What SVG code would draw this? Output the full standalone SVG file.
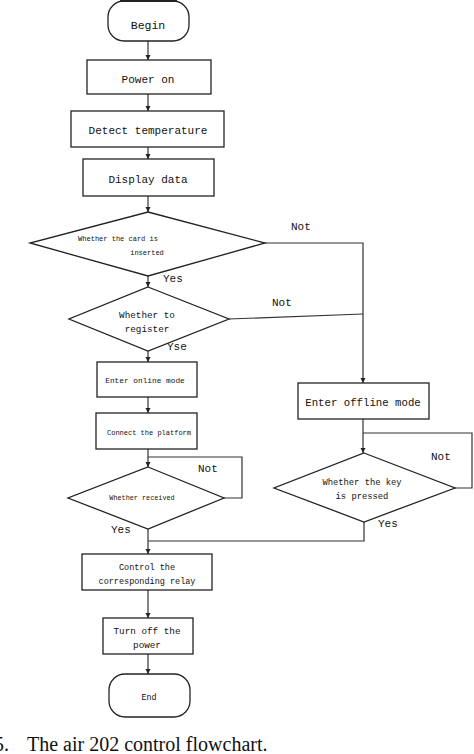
<svg xmlns="http://www.w3.org/2000/svg" width="474" height="754" viewBox="0 0 474 754">
<style>
.box{fill:#fff;stroke:#222;stroke-width:1.3}
.ln{fill:none;stroke:#333;stroke-width:1.2}
.t{font-family:"Liberation Mono","DejaVu Sans Mono",monospace;fill:#111;text-anchor:middle}
.lb{font-family:"Liberation Mono","DejaVu Sans Mono",monospace;fill:#111;font-size:11px}
.cap{font-family:"Liberation Serif","Times New Roman",serif;fill:#111;font-size:20px}
</style>
<defs>
<marker id="ar" markerWidth="6" markerHeight="6" refX="5" refY="3" orient="auto" markerUnits="userSpaceOnUse">
<path d="M0,0.5 L5,3 L0,5.5 Z" fill="#222"/>
</marker>
</defs>
<rect width="474" height="754" fill="#fff"/>
<g id="connectors">
<line class="ln" x1="148" y1="41" x2="148" y2="60" marker-end="url(#ar)"/>
<line class="ln" x1="148" y1="94" x2="148" y2="111" marker-end="url(#ar)"/>
<line class="ln" x1="148" y1="147" x2="148" y2="159" marker-end="url(#ar)"/>
<line class="ln" x1="148" y1="196" x2="148" y2="212" marker-end="url(#ar)"/>
<line class="ln" x1="148" y1="276" x2="148" y2="287" marker-end="url(#ar)"/>
<polyline class="ln" points="265,243 363,243 363,383" marker-end="url(#ar)"/>
<line class="ln" x1="229" y1="319" x2="363" y2="314"/>
<line class="ln" x1="148" y1="351" x2="148" y2="362" marker-end="url(#ar)"/>
<line class="ln" x1="148" y1="397" x2="148" y2="413" marker-end="url(#ar)"/>
<line class="ln" x1="148" y1="449" x2="148" y2="467" marker-end="url(#ar)"/>
<polyline class="ln" points="224,498 242,498 242,457 148,457"/>
<line class="ln" x1="148" y1="529" x2="148" y2="554" marker-end="url(#ar)"/>
<line class="ln" x1="363" y1="419" x2="363" y2="453" marker-end="url(#ar)"/>
<polyline class="ln" points="455,488 472,488 472,433 363,433"/>
<polyline class="ln" points="364,522 364,541 148,541"/>
<line class="ln" x1="148" y1="590" x2="148" y2="618" marker-end="url(#ar)"/>
<line class="ln" x1="148" y1="654" x2="148" y2="674" marker-end="url(#ar)"/>
</g>
<g id="labels">
<text class="lb" x="291" y="230">Not</text>
<text class="lb" x="163" y="282">Yes</text>
<text class="lb" x="272" y="306">Not</text>
<text class="lb" x="167" y="350">Yse</text>
<text class="lb" x="198" y="472">Not</text>
<text class="lb" x="111" y="533">Yes</text>
<text class="lb" x="431" y="460">Not</text>
<text class="lb" x="378" y="527">Yes</text>
</g>
<g id="begin">
<rect class="box" x="108" y="1" width="81" height="40" rx="16"/>
<line x1="120" y1="1" x2="177" y2="1" stroke="#222" stroke-width="2"/>
<text class="t" x="148" y="29" font-size="11.5">Begin</text>
</g>
<g id="power-on">
<rect class="box" x="87" y="60" width="124" height="34"/>
<text class="t" x="148" y="83" font-size="11">Power on</text>
</g>
<g id="detect">
<rect class="box" x="71" y="111" width="153" height="36"/>
<text class="t" x="148" y="134" font-size="11">Detect temperature</text>
</g>
<g id="display">
<rect class="box" x="83" y="159" width="131" height="37"/>
<text class="t" x="148" y="183" font-size="11">Display data</text>
</g>
<g id="card">
<polygon class="box" points="148,212 265,243 148,276 30,243"/>
<text class="t" x="118" y="241" font-size="7">Whether the card is</text>
<text class="t" x="147" y="255" font-size="7">inserted</text>
</g>
<g id="register">
<polygon class="box" points="148,287 229,319 148,351 69,319"/>
<text class="t" x="147" y="318" font-size="9.3">Whether to</text>
<text class="t" x="147" y="332" font-size="9.3">register</text>
</g>
<g id="online">
<rect class="box" x="97" y="362" width="100" height="35"/>
<text class="t" x="145" y="383" font-size="7.8">Enter online mode</text>
</g>
<g id="platform">
<rect class="box" x="96" y="413" width="101" height="36"/>
<text class="t" x="149" y="435" font-size="7">Connect the platform</text>
</g>
<g id="received">
<polygon class="box" points="148,467 224,498 148,529 68,498"/>
<text class="t" x="142" y="500" font-size="6.8">Whether received</text>
</g>
<g id="offline">
<rect class="box" x="298" y="383" width="131" height="36"/>
<text class="t" x="363" y="406" font-size="10.7">Enter offline mode</text>
</g>
<g id="key">
<polygon class="box" points="364,453 455,488 364,522 274,488"/>
<text class="t" x="362" y="485" font-size="8.8">Whether the key</text>
<text class="t" x="362" y="499" font-size="8.8">is pressed</text>
</g>
<g id="relay">
<rect class="box" x="82" y="554" width="130" height="36"/>
<text class="t" x="147" y="570" font-size="8.5">Control the</text>
<text class="t" x="147" y="584" font-size="8.5">corresponding relay</text>
</g>
<g id="turnoff">
<rect class="box" x="103" y="618" width="90" height="36"/>
<text class="t" x="147" y="634" font-size="9.3">Turn off the</text>
<text class="t" x="147" y="648" font-size="9.3">power</text>
</g>
<g id="end">
<rect class="box" x="109" y="674" width="81" height="43" rx="16"/>
<text class="t" x="149" y="700" font-size="8.4">End</text>
</g>
<g id="caption">
<text class="cap" x="-6" y="751">5.</text>
<text class="cap" x="27" y="751">The air 202 control flowchart.</text>
</g>
</svg>
